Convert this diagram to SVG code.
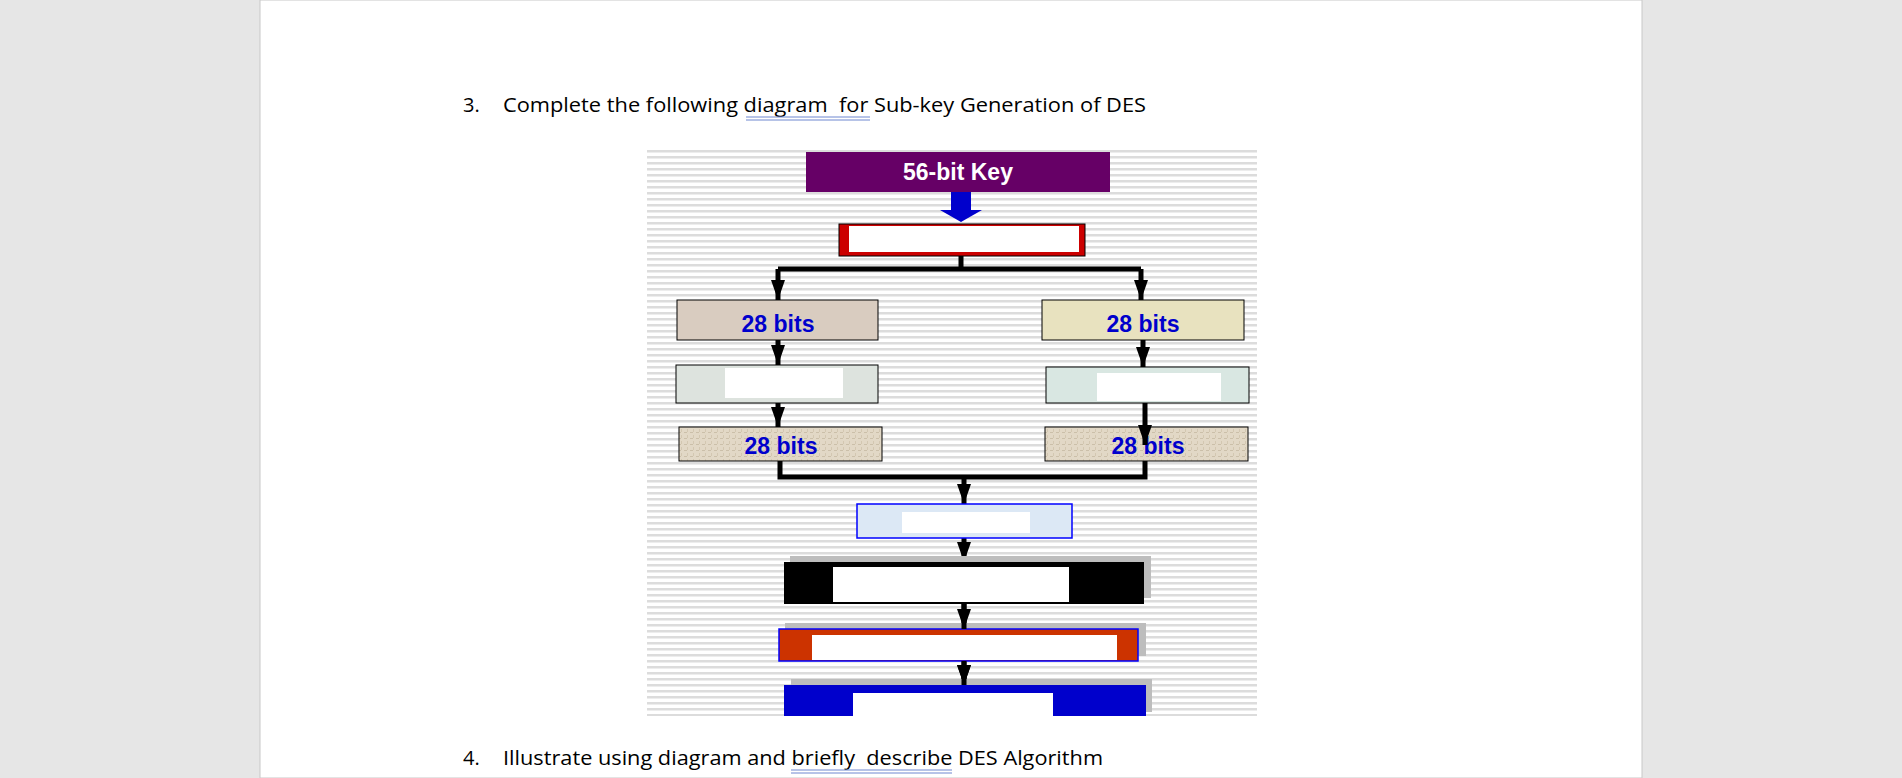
<svg xmlns="http://www.w3.org/2000/svg" width="1902" height="778" viewBox="0 0 1902 778">
<defs>
<pattern id="stripes" width="8" height="6" patternUnits="userSpaceOnUse"><rect width="8" height="6" fill="#fff"/><rect y="0" width="8" height="2.5" fill="#dcdcdc"/></pattern>
<pattern id="burlap" width="6" height="6" patternUnits="userSpaceOnUse"><rect width="6" height="6" fill="#e2d8c6"/><rect width="3" height="1" fill="#cbbfa9"/><rect x="3" y="3" width="1" height="3" fill="#d3c7b1"/></pattern>
<marker id="ah" viewBox="0 0 20 14" refX="20" refY="7" markerWidth="20" markerHeight="14" orient="auto" markerUnits="userSpaceOnUse"><path d="M0,0 L20,7 L0,14 z" fill="#000"/></marker>
</defs>
<style>
.q{font-family:"Open Sans","Liberation Sans",sans-serif;font-size:20px;fill:#000}
.b{font-family:"Liberation Sans",Arial,sans-serif;font-weight:bold;font-size:23px;fill:#0000cc;text-anchor:middle}
.c{stroke:#000;stroke-width:5;fill:none}
.ul{stroke:#6f87d0;stroke-width:1;fill:none}
</style>
<rect width="1902" height="778" fill="#e6e6e6"/>
<rect x="260" y="0" width="1382" height="778" fill="#fff" stroke="#c8c8c8"/>
<text class="q" x="463" y="112">3.</text>
<text class="q" x="503" y="112" xml:space="preserve" textLength="643" lengthAdjust="spacingAndGlyphs">Complete the following diagram  for Sub-key Generation of DES</text>
<path class="ul" d="M746,117 H870 M746,120 H870"/>
<text class="q" x="463" y="765">4.</text>
<text class="q" x="503" y="765" xml:space="preserve" textLength="600" lengthAdjust="spacingAndGlyphs">Illustrate using diagram and briefly  describe DES Algorithm</text>
<path class="ul" d="M791,770 H952 M791,773 H952"/>
<rect x="647" y="149" width="610" height="567" fill="url(#stripes)"/>
<g id="connectors">
<path d="M951,192 H971 V210 H982 L961,222 L940,210 H951 Z" fill="#0000cc"/>
<path class="c" d="M961,256 V269 M778,269 H1141"/>
<path class="c" d="M778,269 V300" marker-end="url(#ah)"/>
<path class="c" d="M1141,269 V300" marker-end="url(#ah)"/>
<path class="c" d="M778,340 V365" marker-end="url(#ah)"/>
<path class="c" d="M1143,340 V367" marker-end="url(#ah)"/>
<path class="c" d="M778,403 V427" marker-end="url(#ah)"/>
<path class="c" d="M780,461 V477 H1145 V461"/>
<path class="c" d="M964,477 V504" marker-end="url(#ah)"/>
<path class="c" d="M964,538 V562" marker-end="url(#ah)"/>
<path class="c" d="M964,604 V629" marker-end="url(#ah)"/>
<path class="c" d="M964,661 V685" marker-end="url(#ah)"/>
</g>
<g id="key"><rect x="806" y="152" width="304" height="40" fill="#660066"/><text x="958" y="180" text-anchor="middle" font-family="Liberation Sans,Arial,sans-serif" font-weight="bold" font-size="23" fill="#fff">56-bit Key</text></g>
<g id="pc1"><rect x="839" y="224" width="246" height="32" fill="#cc0000" stroke="#000"/><rect x="849" y="226" width="230" height="26" fill="#fff"/></g>
<g id="l1"><rect x="677" y="300" width="201" height="40" fill="#d9ccc0" stroke="#000"/><text class="b" x="778" y="332">28 bits</text></g>
<g id="r1"><rect x="1042" y="300" width="202" height="40" fill="#e8e2bf" stroke="#000"/><text class="b" x="1143" y="332">28 bits</text></g>
<g id="l2"><rect x="676" y="365" width="202" height="38" fill="#dde3de" stroke="#000"/><rect x="725" y="368" width="118" height="30" fill="#fff"/></g>
<g id="r2"><rect x="1046" y="367" width="203" height="36" fill="#d9e7e2" stroke="#000"/><rect x="1097" y="373" width="124" height="28" fill="#fff"/></g>
<g id="l3"><rect x="679" y="427" width="203" height="34" fill="url(#burlap)" stroke="#000"/><text class="b" x="781" y="454">28 bits</text></g>
<g id="r3"><rect x="1045" y="427" width="203" height="34" fill="url(#burlap)" stroke="#000"/><text class="b" x="1148" y="454">28 bits</text></g>
<path d="M1145,403 V445" class="c" marker-end="url(#ah)"/>
<g id="merge"><rect x="857" y="504" width="215" height="34" fill="#dce8f5" stroke="#0000ff" stroke-width="1.5"/><rect x="902" y="512" width="128" height="21" fill="#fff"/></g>
<g id="black"><rect x="790" y="556" width="361" height="42" fill="#bdbdbd"/><rect x="784" y="562" width="360" height="42" fill="#000"/><rect x="833" y="567" width="236" height="35" fill="#fff"/></g>
<g id="red"><rect x="785" y="623" width="361" height="33" fill="#bdbdbd"/><rect x="779" y="629" width="359" height="32" fill="#cc3300" stroke="#0000ff" stroke-width="1.5"/><rect x="812" y="635" width="305" height="25" fill="#fff"/></g>
<g id="blue"><rect x="791" y="679" width="361" height="33" fill="#bdbdbd"/><rect x="784" y="685" width="362" height="31" fill="#0000cc"/><rect x="853" y="693" width="200" height="23" fill="#fff"/></g>
<path class="c" d="M964,604 V629 M964,661 V685" marker-end="url(#ah)"/>
<rect x="647" y="716" width="610" height="10" fill="#fff"/>
</svg>
